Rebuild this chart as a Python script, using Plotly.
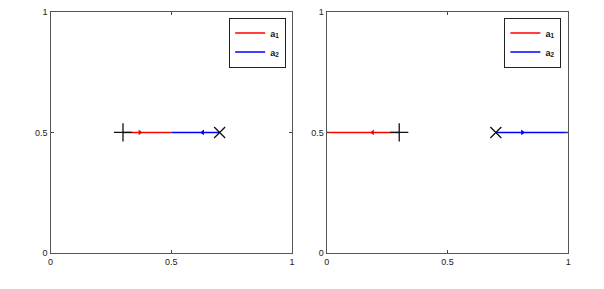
import plotly.graph_objects as go

# Data
y_level = 0.5
# Left panel
L_red_x = [0.3, 0.5]
L_blue_x = [0.5, 0.7]
L_red_arrow = 0.37
L_blue_arrow = 0.63
# Right panel
R_red_x = [0.0, 0.3]
R_blue_x = [0.7, 1.0]
R_red_arrow = 0.19
R_blue_arrow = 0.81
plus_x = 0.3
cross_x = 0.7
tick_vals = [0, 0.5, 1]
tick_text = ["0", "0.5", "1"]
names = ["<b>a<sub>1</sub></b>", "<b>a<sub>2</sub></b>"]

RED = "#ff0000"
BLUE = "#0000ff"

fig = go.Figure()

def panel(xa, ya, leg, red_x, blue_x, red_arrow, red_dir, blue_arrow, blue_dir):
    fig.add_trace(go.Scatter(x=red_x, y=[y_level]*2, mode="lines", line=dict(color=RED, width=1.5),
                             name=names[0], xaxis=xa, yaxis=ya, legend=leg))
    fig.add_trace(go.Scatter(x=blue_x, y=[y_level]*2, mode="lines", line=dict(color=BLUE, width=1.5),
                             name=names[1], xaxis=xa, yaxis=ya, legend=leg))
    fig.add_trace(go.Scatter(x=[red_arrow], y=[y_level], mode="markers",
                             marker=dict(symbol="triangle-" + red_dir, size=5, color=RED),
                             showlegend=False, xaxis=xa, yaxis=ya, hoverinfo="skip"))
    fig.add_trace(go.Scatter(x=[blue_arrow], y=[y_level], mode="markers",
                             marker=dict(symbol="triangle-" + blue_dir, size=5, color=BLUE),
                             showlegend=False, xaxis=xa, yaxis=ya, hoverinfo="skip"))
    fig.add_trace(go.Scatter(x=[plus_x], y=[y_level], mode="markers",
                             marker=dict(symbol="cross-thin", size=13, line=dict(color="#111111", width=1.3)),
                             showlegend=False, xaxis=xa, yaxis=ya, hoverinfo="skip"))
    fig.add_trace(go.Scatter(x=[cross_x], y=[y_level], mode="markers",
                             marker=dict(symbol="x-thin", size=11, line=dict(color="#111111", width=1.3)),
                             showlegend=False, xaxis=xa, yaxis=ya, hoverinfo="skip"))

panel("x", "y", "legend", L_red_x, L_blue_x, L_red_arrow, "right", L_blue_arrow, "left")
panel("x2", "y2", "legend2", R_red_x, R_blue_x, R_red_arrow, "left", R_blue_arrow, "right")

W, H = 604, 289
ax_common = dict(range=[0, 1], showline=True, mirror="ticks", linecolor="#555555", linewidth=1.2,
                 ticks="inside", ticklen=3, tickwidth=1, tickcolor="#444444",
                 tickvals=tick_vals, ticktext=tick_text, showgrid=False, zeroline=False,
                 tickfont=dict(family="Liberation Sans, Arial", size=9, color="#222222"), fixedrange=True)

ydom = [(H - 257) / H, (H - 7) / H]
leg_common = dict(yanchor="top", bordercolor="#222222", borderwidth=1, bgcolor="white",
                  font=dict(family="Liberation Sans, Arial", size=9, color="#111111"),
                  itemwidth=30, tracegroupgap=0)
fig.update_layout(
    width=W, height=H, margin=dict(l=0, r=0, t=0, b=0),
    paper_bgcolor="white", plot_bgcolor="white",
    xaxis=dict(domain=[48 / W, 292 / W], anchor="y", **ax_common),
    yaxis=dict(domain=ydom, anchor="x", **ax_common),
    xaxis2=dict(domain=[327 / W, 571 / W], anchor="y2", **ax_common),
    yaxis2=dict(domain=ydom, anchor="x2", **ax_common),
    legend=dict(x=286 / W, xanchor="right", y=1 - 13 / H, **leg_common),
    legend2=dict(x=564 / W, xanchor="right", y=1 - 13 / H, **leg_common),
    showlegend=True,
)

fig.write_html("out.html")
